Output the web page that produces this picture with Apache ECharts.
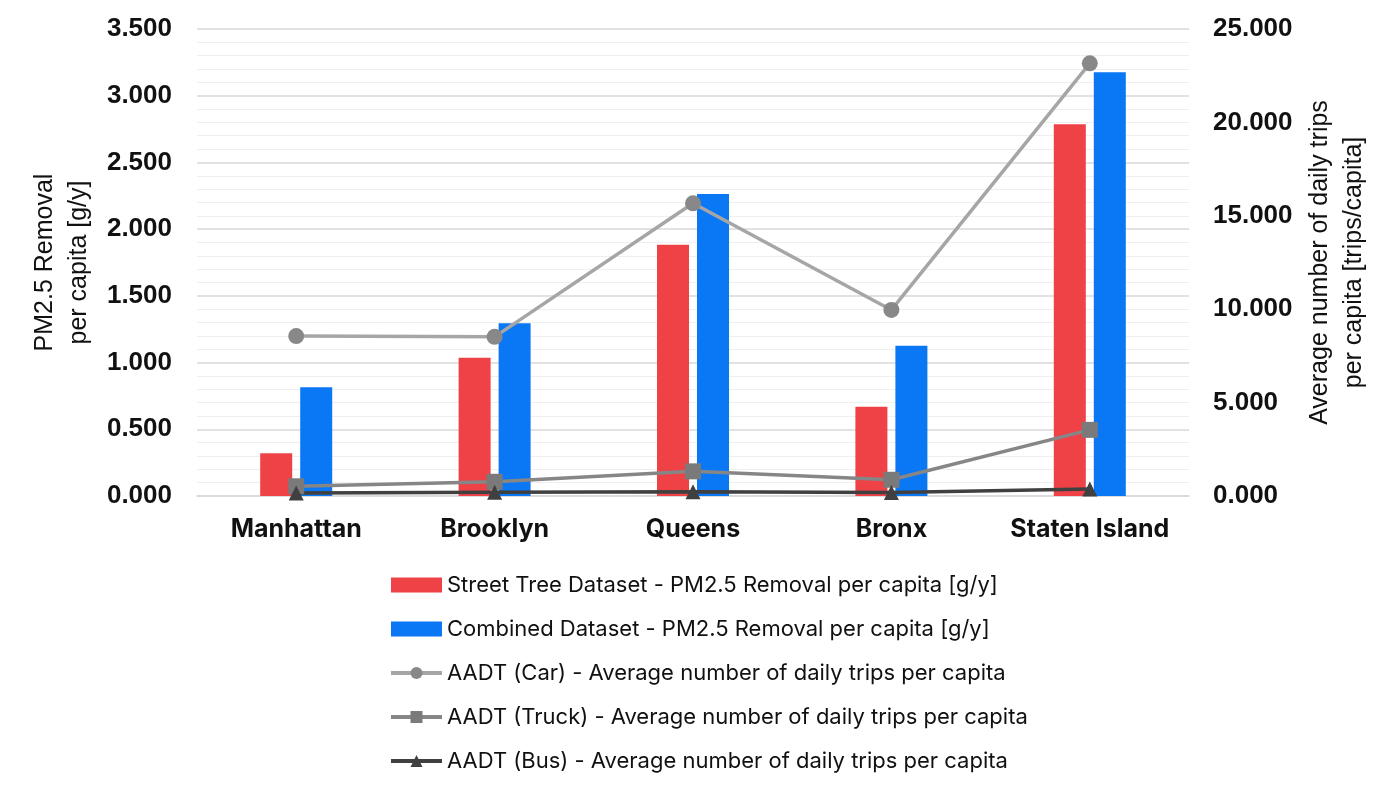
<!DOCTYPE html>
<html>
<head>
<meta charset="utf-8">
<script src="https://cdn.jsdelivr.net/npm/echarts@6/dist/echarts.min.js"></script>
<style>html,body{margin:0;padding:0;background:#fff;}#c{width:1400px;height:797px;}</style>
</head>
<body>
<div id="c"></div>
<script>
const categories = ['Manhattan', 'Brooklyn', 'Queens', 'Bronx', 'Staten Island'];
const streetTree = [0.32, 1.037, 1.883, 0.668, 2.786];
const combined = [0.815, 1.295, 2.263, 1.127, 3.176];
const carTrips = [8.56, 8.52, 15.67, 9.96, 23.16];
const truckTrips = [0.52, 0.76, 1.32, 0.87, 3.54];
const busTrips = [0.16, 0.2, 0.23, 0.19, 0.37];
const seriesNames = [
  'Street Tree Dataset - PM2.5 Removal per capita [g/y]',
  'Combined Dataset - PM2.5 Removal per capita [g/y]',
  'AADT (Car) - Average number of daily trips per capita',
  'AADT (Truck) - Average number of daily trips per capita',
  'AADT (Bus) - Average number of daily trips per capita'
];

const chart = echarts.init(document.getElementById('c'));
const tickFont = { fontFamily: 'Liberation Sans', fontWeight: 'bold', fontSize: 26, color: '#111' };
const nameFont = { fontFamily: 'Liberation Sans', fontSize: 25, color: '#111', lineHeight: 34 };
chart.setOption({
  animation: false,
  backgroundColor: '#fff',
  grid: { left: 197, right: 211, top: 29, bottom: 301, containLabel: false, outerBoundsMode: 'none' },
  legend: {
    orient: 'vertical',
    left: 384,
    top: 569,
    itemWidth: 51,
    itemHeight: 15,
    itemGap: 22,
    textStyle: { fontFamily: 'Inter', fontSize: 22, color: '#111', lineHeight: 21 },
    data: [
      { name: seriesNames[0], icon: 'rect' },
      { name: seriesNames[1], icon: 'rect' },
      { name: seriesNames[2], lineStyle: { width: 4 } },
      { name: seriesNames[3], lineStyle: { width: 4 } },
      { name: seriesNames[4], lineStyle: { width: 4 } }
    ]
  },
  xAxis: {
    type: 'category',
    data: categories,
    axisLine: { show: true, lineStyle: { color: '#d9d9d9', width: 1.5 } },
    axisTick: { show: false },
    axisLabel: { interval: 0, fontFamily: 'Inter', fontWeight: 'bold', fontSize: 25, color: '#111', margin: 21 }
  },
  yAxis: [
    {
      type: 'value', min: 0, max: 3.5, interval: 0.5,
      name: 'PM2.5 Removal\nper capita [g/y]',
      nameLocation: 'middle', nameGap: 95, nameRotate: 90,
      nameTextStyle: nameFont,
      axisLine: { show: false }, axisTick: { show: false },
      axisLabel: Object.assign({ margin: 25, formatter: v => v.toFixed(3) }, tickFont),
      splitLine: { show: true, lineStyle: { color: '#d9d9d9', width: 1.5 } },
      minorTick: { show: false, splitNumber: 5 },
      minorSplitLine: { show: true, lineStyle: { color: '#efefef', width: 1.2 } }
    },
    {
      type: 'value', min: 0, max: 25, interval: 5,
      name: 'Average number of daily trips\nper capita [trips/capita]',
      nameLocation: 'middle', nameGap: 110, nameRotate: 90,
      nameTextStyle: nameFont,
      axisLine: { show: false }, axisTick: { show: false },
      axisLabel: Object.assign({ margin: 24, formatter: v => v.toFixed(3) }, tickFont),
      splitLine: { show: false }
    }
  ],
  series: [
    { name: seriesNames[0], type: 'bar', yAxisIndex: 0, data: streetTree, barWidth: 32, barGap: '25%',
      itemStyle: { color: '#ee4247' } },
    { name: seriesNames[1], type: 'bar', yAxisIndex: 0, data: combined, barWidth: 32, barGap: '25%',
      itemStyle: { color: '#0a77f5' } },
    { name: seriesNames[2], type: 'line', yAxisIndex: 1, data: carTrips, symbol: 'circle', symbolSize: 16,
      lineStyle: { color: '#a6a6a6', width: 3.5 }, itemStyle: { color: '#888888' } },
    { name: seriesNames[3], type: 'line', yAxisIndex: 1, data: truckTrips, symbol: 'rect', symbolSize: 16,
      lineStyle: { color: '#868686', width: 3.5 }, itemStyle: { color: '#7a7a7a' } },
    { name: seriesNames[4], type: 'line', yAxisIndex: 1, data: busTrips, symbol: 'triangle', symbolSize: 15,
      lineStyle: { color: '#404040', width: 3.5 }, itemStyle: { color: '#404040' } }
  ]
});
</script>
</body>
</html>
